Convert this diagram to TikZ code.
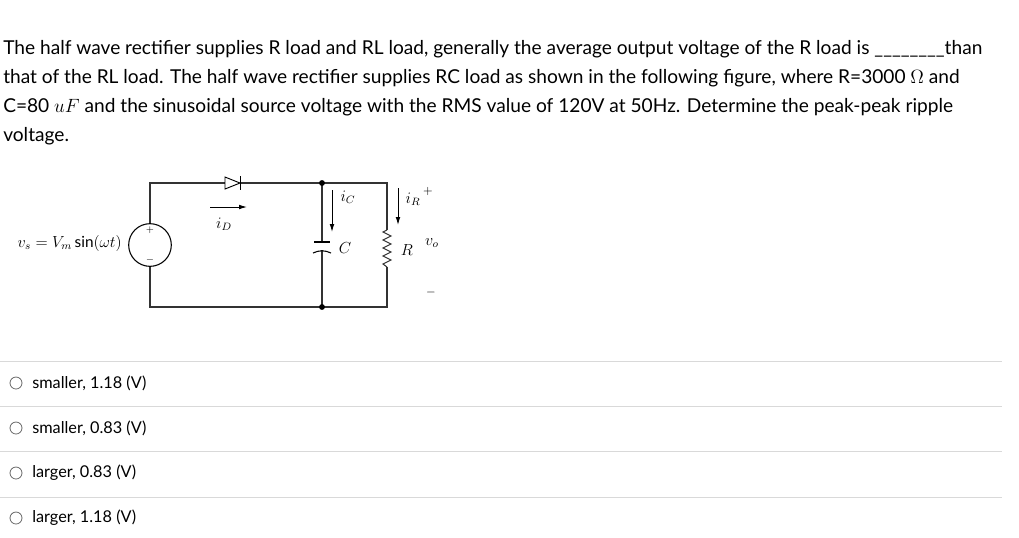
\documentclass[tikz,border=0pt]{standalone}
\usepackage{fontspec}
\setmainfont{Lato}
\usetikzlibrary{positioning,arrows.meta}
\begin{document}
\begin{tikzpicture}[
  x=0.75pt, y=-0.75pt,
  every node/.style={inner sep=0pt},
  txt/.style={anchor=west, font=\fontsize{14.35}{16}\selectfont},
  opt/.style={circle, draw=black!60, line width=0.6pt, minimum size=9pt},
  sep/.style={draw=black!15, line width=0.6pt},
  wire/.style={draw, line width=0.8pt, black!80},
  cur/.style={-{Latex[length=6pt,width=3.5pt]}, line width=0.7pt},
  lbl/.style={font=\fontsize{12}{14}\selectfont}
]
\useasboundingbox (0,0) rectangle (1019,537);
% question text
\node[txt] (q1) at (3,49) {The half wave rectifier supplies R load and RL load, generally the average output voltage of the R load is \_\_\_\_\_\_\_\_than};
\node[txt] (q2) at (3,78) {that of the RL load. The half wave rectifier supplies RC load as shown in the following figure, where R=3000 $\Omega$ and};
\node[txt] (q3) at (3,107) {C=80 $uF$ and the sinusoidal source voltage with the RMS value of 120V at 50Hz. Determine the peak-peak ripple};
\node[txt] (q4) at (3,136) {voltage.};
% circuit corners
\coordinate (tl) at (150,183);
\coordinate (bl) at (150,307);
\coordinate (tm) at (322,183);
\coordinate (bm) at (322,307);
\coordinate (tr) at (387,183);
\coordinate (br) at (387,307);
\node[circle, draw, line width=0.8pt, minimum size=32pt] (src) at (150,245) {};
\node[font=\scriptsize] (sp) at (150,230) {$+$};
\node[font=\scriptsize] (sm) at (150,260) {$-$};
\node[anchor=east, font=\fontsize{11.5}{13}\selectfont] (vs) at (122,243) {$v_s=V_m\,\mathrm{sin}(\omega t)$};
\draw[wire] (src.north) -- (tl) -- (225,183);
\draw[wire] (240,183) -- (tm) -- (tr) -- (387,230);
\draw[wire] (src.south) -- (bl) -- (bm) -- (br) -- (387,267);
% diode
\draw[line width=0.7pt] (225,177) -- (225,189) -- (240,183) -- cycle;
\draw[line width=0.7pt] (240,176) -- (240,190);
% capacitor
\draw[wire] (tm) -- (322,242);
\draw[wire] (322,250) -- (bm);
\draw[line width=0.8pt] (314,242) -- (330,242);
\draw[line width=0.8pt] (313,253) to[bend left=25] (331,253);
\fill (tm) circle (2.2pt);
\fill (bm) circle (2.2pt);
% resistor
\draw[wire] (387,230) -- (383,232) -- (391,236) -- (383,240) -- (391,244) -- (383,248) -- (391,252) -- (383,256) -- (391,260) -- (383,264) -- (387,267);
% currents
\coordinate (da) at (210,207);
\coordinate (db) at (247,207);
\draw[cur] (da) -- (db);
\node[lbl] (iD) at (224,224) {$i_D$};
\coordinate (ca) at (332,190);
\coordinate (cb) at (332,232);
\draw[cur] (ca) -- (cb);
\node[lbl] (iC) at (348,197) {$i_C$};
\coordinate (ra) at (398,188);
\coordinate (rb) at (398,225);
\draw[cur] (ra) -- (rb);
\node[lbl] (iR) at (413,199) {$i_R$};
\node[lbl] (C) at (345,248) {$C$};
\node[lbl] (R) at (407,250) {$R$};
\node[font=\small] (vp) at (428,191) {$+$};
\node[lbl] (vo) at (432,243) {$v_o$};
\node[font=\small] (vm) at (431,292) {$-$};
% answers
\foreach \y/\t in {383/{smaller, 1.18 (V)}, 428/{smaller, 0.83 (V)}, 473/{larger, 0.83 (V)}, 518/{larger, 1.18 (V)}}{
  \node[opt] at (16,\y) {};
  \node[txt, font=\fontsize{12.2}{14}\selectfont] at (32,\y) {\t};
}
\foreach \y in {361,406,451,497}
  \draw[sep] (0,\y) -- (1002,\y);
\end{tikzpicture}
\end{document}
